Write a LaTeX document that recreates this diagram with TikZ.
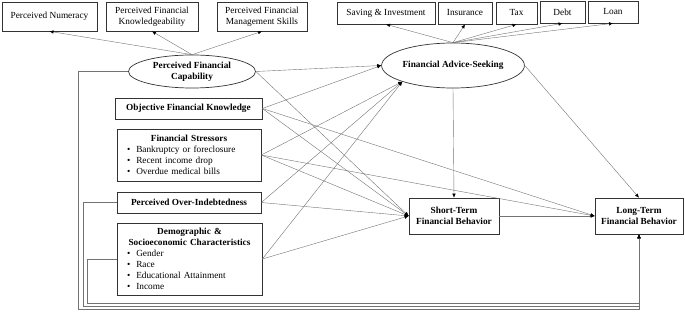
\documentclass[tikz,border=0pt]{standalone}
\usepackage{fontspec}
\setmainfont{Liberation Serif}
\usepackage{tikz}
\usetikzlibrary{shapes.geometric,arrows.meta,positioning,calc}

\begin{document}
\begin{tikzpicture}[
    x=1pt, y=-1pt,
    font=\fontsize{9.3}{11}\selectfont,
    box/.style={draw=black!80, line width=0.7pt, rectangle, inner sep=0pt, align=center},
    oval/.style={draw=black!80, line width=0.7pt, ellipse, inner sep=0pt, align=center, font=\fontsize{9.3}{11}\selectfont\bfseries},
    listbox/.style={draw=black!80, line width=0.7pt, rectangle, inner xsep=10pt, inner ysep=0pt, align=left},
    link/.style={draw=black!55, line width=0.4pt, -{Latex[length=4pt, width=3.5pt, color=black]}}
]
\useasboundingbox (0,0) rectangle (685,312);

% Indicators of perceived capability
\node[box, minimum width=95, minimum height=29] (num) at (49.5,16.5) {Perceived Numeracy};
\node[box, minimum width=92, minimum height=29] (knw) at (152,16.5) {Perceived Financial\\Knowledgeability};
\node[box, minimum width=90, minimum height=29] (mgt) at (262,16.5) {Perceived Financial\\Management Skills};

% Indicators of advice-seeking
\node[box, minimum width=98, minimum height=22] (sav) at (386,13) {Saving \& Investment};
\node[box, minimum width=54, minimum height=22] (ins) at (465,13) {Insurance};
\node[box, minimum width=41, minimum height=22] (tax) at (516.5,13) {Tax};
\node[box, minimum width=45, minimum height=22] (debt) at (562.5,12) {Debt};
\node[box, minimum width=50, minimum height=22] (loan) at (613,12) {Loan};

% Latent variables
\node[oval, minimum width=127, minimum height=33] (pfc) at (192,71.5) {Perceived Financial\\Capability};
\node[oval, minimum width=119, minimum height=45] (fas) at (453,65.5) {Financial Advice-Seeking};

% Predictors
\node[box, minimum width=147, minimum height=21, font=\fontsize{9.3}{11}\selectfont\bfseries] (ofk) at (188.5,108.5) {Objective Financial Knowledge};
\node[listbox, minimum width=144, minimum height=52, text width=124] (fs) at (189,155) {%
\makebox[\linewidth]{\textbf{Financial Stressors}}\\
\textbullet\hspace{6pt}Bankruptcy or foreclosure\\
\textbullet\hspace{6pt}Recent income drop\\
\textbullet\hspace{6pt}Overdue medical bills};
\node[box, minimum width=144, minimum height=21, font=\fontsize{9.3}{11}\selectfont\bfseries] (poi) at (189,202.5) {Perceived Over-Indebtedness};
\node[listbox, minimum width=145, minimum height=72, text width=125] (dem) at (189.5,259) {%
\makebox[\linewidth]{\textbf{Demographic \&}}\\
\makebox[\linewidth]{\textbf{Socioeconomic Characteristics}}\\
\textbullet\hspace{6pt}Gender\\
\textbullet\hspace{6pt}Race\\
\textbullet\hspace{6pt}Educational Attainment\\
\textbullet\hspace{6pt}Income};

% Outcomes
\node[box, minimum width=90, minimum height=36, font=\fontsize{9.3}{11}\selectfont\bfseries] (st) at (454,216) {Short-Term\\Financial Behavior};
\node[box, minimum width=88, minimum height=36, font=\fontsize{9.3}{11}\selectfont\bfseries] (lt) at (639,216) {Long-Term\\Financial Behavior};

% Measurement paths
\foreach \t in {num,knw,mgt} \draw[link] (pfc.north) -- (\t.south);
\foreach \t in {sav,ins,tax,debt,loan} \draw[link] (fas.north) -- (\t.south);

% Structural paths
\draw[link] (pfc.east) -- (fas.west);
\draw[link] (pfc.east) -- (st.west);
\draw[link] (ofk.east) -- (fas.west);
\foreach \s in {fs,poi,dem} \draw[link] (\s.east) -- (fas.south west);
\foreach \s in {ofk,fs,poi,dem} \draw[link] (\s.east) -- (st.west);
\foreach \s in {ofk,fs} \draw[link] (\s.east) -- (lt.west);
\draw[link] (fas.south) -- (st.north);
\draw[link] (fas.east) -- (lt.north);
\draw[link] (st.east) -- (lt.west);

% Paths routed below
\draw[link] (pfc.west) -| (78,309) -| (lt.south);
\draw[link] (poi.west) -| (83,306) -| (lt.south);
\draw[link] (dem.west) -| (87,303) -| (lt.south);

\end{tikzpicture}
\end{document}
